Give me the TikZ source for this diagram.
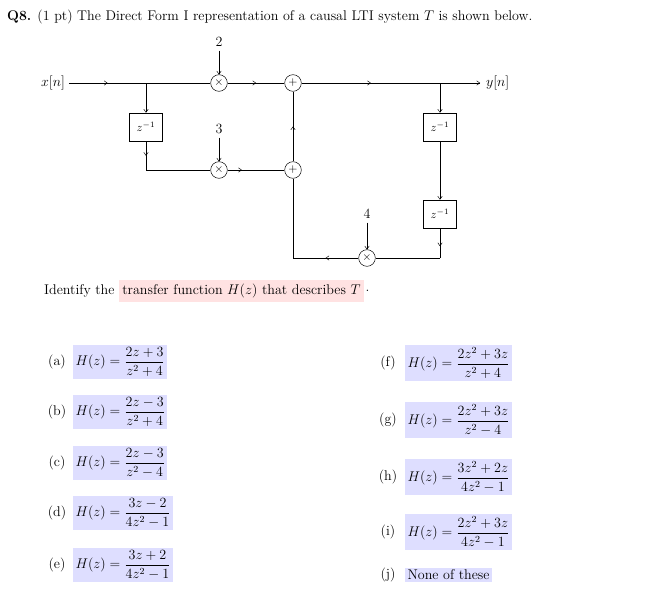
\documentclass[tikz,border=0pt]{standalone}
\usepackage{amsmath}
\usetikzlibrary{decorations.markings,arrows.meta}
\definecolor{optbg}{RGB}{222,222,255}
\definecolor{hlbg}{RGB}{255,226,226}
\tikzset{
 px/.style={x=0.03cm,y=-0.03cm},
 mult/.style={circle,draw,inner sep=0pt,minimum size=0.5cm},
 addr/.style={circle,draw,inner sep=0pt,minimum size=0.5cm},
 delay/.style={draw,minimum width=1.0cm,minimum height=0.85cm,font=\fontsize{10}{12}\selectfont},
 wire/.style={thin},
 mid/.style={postaction={decorate},decoration={markings,mark=at position #1 with {\arrow{To[length=3pt,width=4pt]}}}},
 tip/.style={-{To[length=3pt,width=4pt]}},
 optbox/.style={fill=optbg,inner sep=2pt,font=\fontsize{12}{14}\selectfont},
 optlab/.style={font=\fontsize{12}{14}\selectfont},
 body/.style={font=\fontsize{12}{14}\selectfont},
}
\begin{document}
\begin{tikzpicture}[px]
\useasboundingbox (0,0) rectangle (649,610);
% title
\node[body,anchor=west] (title) at (3,17) {\textbf{Q8.} (1 pt) The Direct Form I representation of a causal LTI system $T$ is shown below.};
% nodes
\node[body] (x) at (53,83) {$x[n]$};
\coordinate (b1) at (146,83);
\node[mult] (m1) at (219,83) {$\times$};
\node[addr] (a1) at (293,83) {$+$};
\coordinate (b2) at (440,83);
\node[body,anchor=west] (y) at (482,83) {$y[n]$};
\coordinate (yend) at (480,83);
\node[delay] (d1) at (146,127) {$z^{-1}$};
\coordinate (c1) at (146,170);
\node[mult] (m2) at (219,170) {$\times$};
\node[addr] (a2) at (293,170) {$+$};
\node[delay] (d2) at (440,127) {$z^{-1}$};
\node[delay] (d3) at (440,214) {$z^{-1}$};
\coordinate (c3) at (440,258);
\node[mult] (m3) at (367,258) {$\times$};
\coordinate (c4) at (293,258);
\node[body] (g1) at (219,42) {$2$};
\node[body] (g2) at (219,129) {$3$};
\node[body] (g3) at (367,214) {$4$};
% wires
\draw[wire,mid=0.5] (x.east) -- (b1);
\draw[wire] (b1) -- (m1.west);
\draw[wire,mid=0.5] (m1.east) -- (a1.west);
\draw[wire,mid=0.5] (a1.east) -- (b2);
\draw[wire,tip] (b2) -- (yend);
\draw[wire,tip] (b1) -- (d1.north);
\draw[wire,mid=0.5] (d1.south) -- (c1);
\draw[wire] (c1) -- (m2.west);
\draw[wire,mid=0.25] (m2.east) -- (a2.west);
\draw[wire,mid=0.5] (a2.north) -- (a1.south);
\draw[wire,tip] (b2) -- (d2.north);
\draw[wire,tip] (d2.south) -- (d3.north);
\draw[wire,mid=0.6] (d3.south) -- (c3);
\draw[wire] (c3) -- (m3.east);
\draw[wire,mid=0.5] (m3.west) -- (c4);
\draw[wire] (c4) -- (a2.south);
\draw[wire,tip] (g1.south) -- (m1.north);
\draw[wire,tip] (g2.south) -- (m2.north);
\draw[wire,tip] (g3.south) -- (m3.north);
% question
\node[body,anchor=west] (q1) at (40,291) {Identify the};
\node[body,anchor=west,fill=hlbg,inner sep=3pt] (q2) at (q1.east) {transfer function $H(z)$ that describes $T$};
\node[body,anchor=west,inner sep=1pt] (q3) at (q2.east) {.};
% options left
\node[optlab] (la) at (57,362) {(a)};
\node[optbox,anchor=west] (oa) at (73,362) {$H(z)=\dfrac{2z+3}{z^2+4}$};
\node[optlab] (lb) at (57,412) {(b)};
\node[optbox,anchor=west] (ob) at (73,412) {$H(z)=\dfrac{2z-3}{z^2+4}$};
\node[optlab] (lc) at (57,463) {(c)};
\node[optbox,anchor=west] (oc) at (73,463) {$H(z)=\dfrac{2z-3}{z^2-4}$};
\node[optlab] (ld) at (57,513) {(d)};
\node[optbox,anchor=west] (od) at (73,513) {$H(z)=\dfrac{3z-2}{4z^2-1}$};
\node[optlab] (le) at (57,565) {(e)};
\node[optbox,anchor=west] (oe) at (73,565) {$H(z)=\dfrac{3z+2}{4z^2-1}$};
% options right
\node[optlab] (lf) at (388,363) {(f)};
\node[optbox,anchor=west] (of) at (405,363) {$H(z)=\dfrac{2z^2+3z}{z^2+4}$};
\node[optlab] (lg) at (388,420) {(g)};
\node[optbox,anchor=west] (og) at (405,420) {$H(z)=\dfrac{2z^2+3z}{z^2-4}$};
\node[optlab] (lh) at (388,477) {(h)};
\node[optbox,anchor=west] (oh) at (405,477) {$H(z)=\dfrac{3z^2+2z}{4z^2-1}$};
\node[optlab] (li) at (388,532) {(i)};
\node[optbox,anchor=west] (oi) at (405,532) {$H(z)=\dfrac{2z^2+3z}{4z^2-1}$};
\node[optlab] (lj) at (388,575) {(j)};
\node[optbox,anchor=west] (oj) at (405,575) {None of these};
\end{tikzpicture}
\end{document}
